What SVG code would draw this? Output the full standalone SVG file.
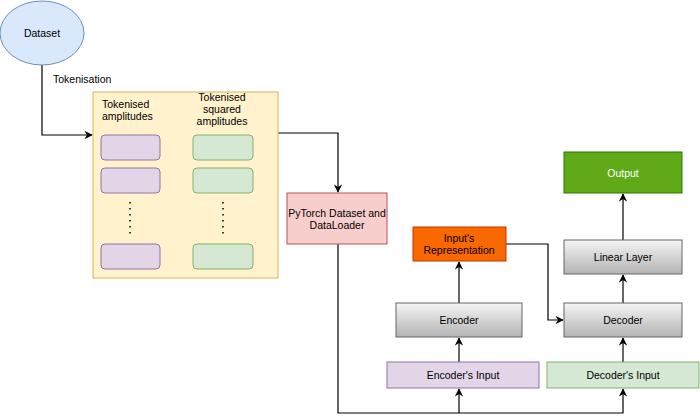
<svg xmlns="http://www.w3.org/2000/svg" width="700" height="420" viewBox="0 0 700 420">
<style>
text{font-family:"Liberation Sans",Arial,sans-serif;font-size:10.5px;fill:#000}
.c{text-anchor:middle}
.e{fill:none;stroke:#000;stroke-width:1.2}
.g{fill:url(#gr);stroke:#666}
.p{fill:#e1d5e7;stroke:#9673a6}
.q{fill:#d5e8d4;stroke:#82b366}
</style>
<defs>
<linearGradient id="gr" x1="0" y1="0" x2="0" y2="1"><stop offset="0" stop-color="#f5f5f5"/><stop offset="1" stop-color="#b3b3b3"/></linearGradient>
<marker id="a" viewBox="0 0 10 10" refX="9" refY="5" markerWidth="7" markerHeight="7" orient="auto"><path d="M0,0L10,5L0,10L3,5z" fill="#000"/></marker>
</defs>
<rect width="700" height="420" fill="#fff"/>
<g id="connectors">
<path class="e" d="M42,65V135H92" marker-end="url(#a)"/>
<path class="e" d="M278,133H338V192" marker-end="url(#a)"/>
<path class="e" d="M338,244V413H623V389" marker-end="url(#a)"/>
<path class="e" d="M459,413V389" marker-end="url(#a)"/>
<path class="e" d="M459,362V338" marker-end="url(#a)"/>
<path class="e" d="M459,303V262" marker-end="url(#a)"/>
<path class="e" d="M506,244H548V320H563" marker-end="url(#a)"/>
<path class="e" d="M623,362V338" marker-end="url(#a)"/>
<path class="e" d="M623,303V275" marker-end="url(#a)"/>
<path class="e" d="M623,240V194" marker-end="url(#a)"/>
</g>
<g id="dataset"><ellipse cx="42" cy="33" rx="42" ry="32" fill="#dae8fc" stroke="#6c8ebf"/><text class="c" x="42" y="37">Dataset</text></g>
<text x="53" y="83">Tokenisation</text>
<g id="tokens">
<rect x="93" y="92" width="185" height="186" fill="#fff2cc" stroke="#d6b656"/>
<text x="102" y="108">Tokenised</text><text x="102" y="120">amplitudes</text>
<text class="c" x="222" y="101">Tokenised</text><text class="c" x="222" y="113">squared</text><text class="c" x="222" y="125">amplitudes</text>
<rect class="p" x="101" y="135" width="59" height="25" rx="4"/>
<rect class="p" x="101" y="168" width="59" height="25" rx="4"/>
<rect class="p" x="101" y="244" width="59" height="25" rx="4"/>
<rect class="q" x="193" y="135" width="60" height="25" rx="4"/>
<rect class="q" x="193" y="168" width="60" height="25" rx="4"/>
<rect class="q" x="193" y="244" width="60" height="25" rx="4"/>
<path d="M130,202V236M223,202V236" stroke="#000" stroke-width="1.5" stroke-dasharray="1.5,4.5"/>
</g>
<g id="pytorch"><rect x="287" y="193" width="100" height="51" fill="#f8cecc" stroke="#b85450"/><text class="c" x="337" y="217">PyTorch Dataset and</text><text class="c" x="337" y="229">DataLoader</text></g>
<g id="inputrep"><rect x="413" y="227" width="93" height="34" fill="#fa6800" stroke="#c73500"/><text class="c" x="459" y="242">Input's</text><text class="c" x="459" y="254">Representation</text></g>
<g id="output"><rect x="564" y="152" width="118" height="41" fill="#60a917" stroke="#2d7600"/><text class="c" x="623" y="177" style="fill:#fff">Output</text></g>
<g id="linear"><rect class="g" x="564" y="240" width="118" height="34"/><text class="c" x="623" y="261">Linear Layer</text></g>
<g id="encoder"><rect class="g" x="396" y="303" width="126" height="34"/><text class="c" x="459" y="324">Encoder</text></g>
<g id="decoder"><rect class="g" x="564" y="303" width="118" height="34"/><text class="c" x="623" y="324">Decoder</text></g>
<g id="encin"><rect class="p" x="387" y="362" width="152" height="26"/><text class="c" x="463" y="379">Encoder's Input</text></g>
<g id="decin"><rect class="q" x="547" y="362" width="152" height="26"/><text class="c" x="623" y="379">Decoder's Input</text></g>
</svg>
